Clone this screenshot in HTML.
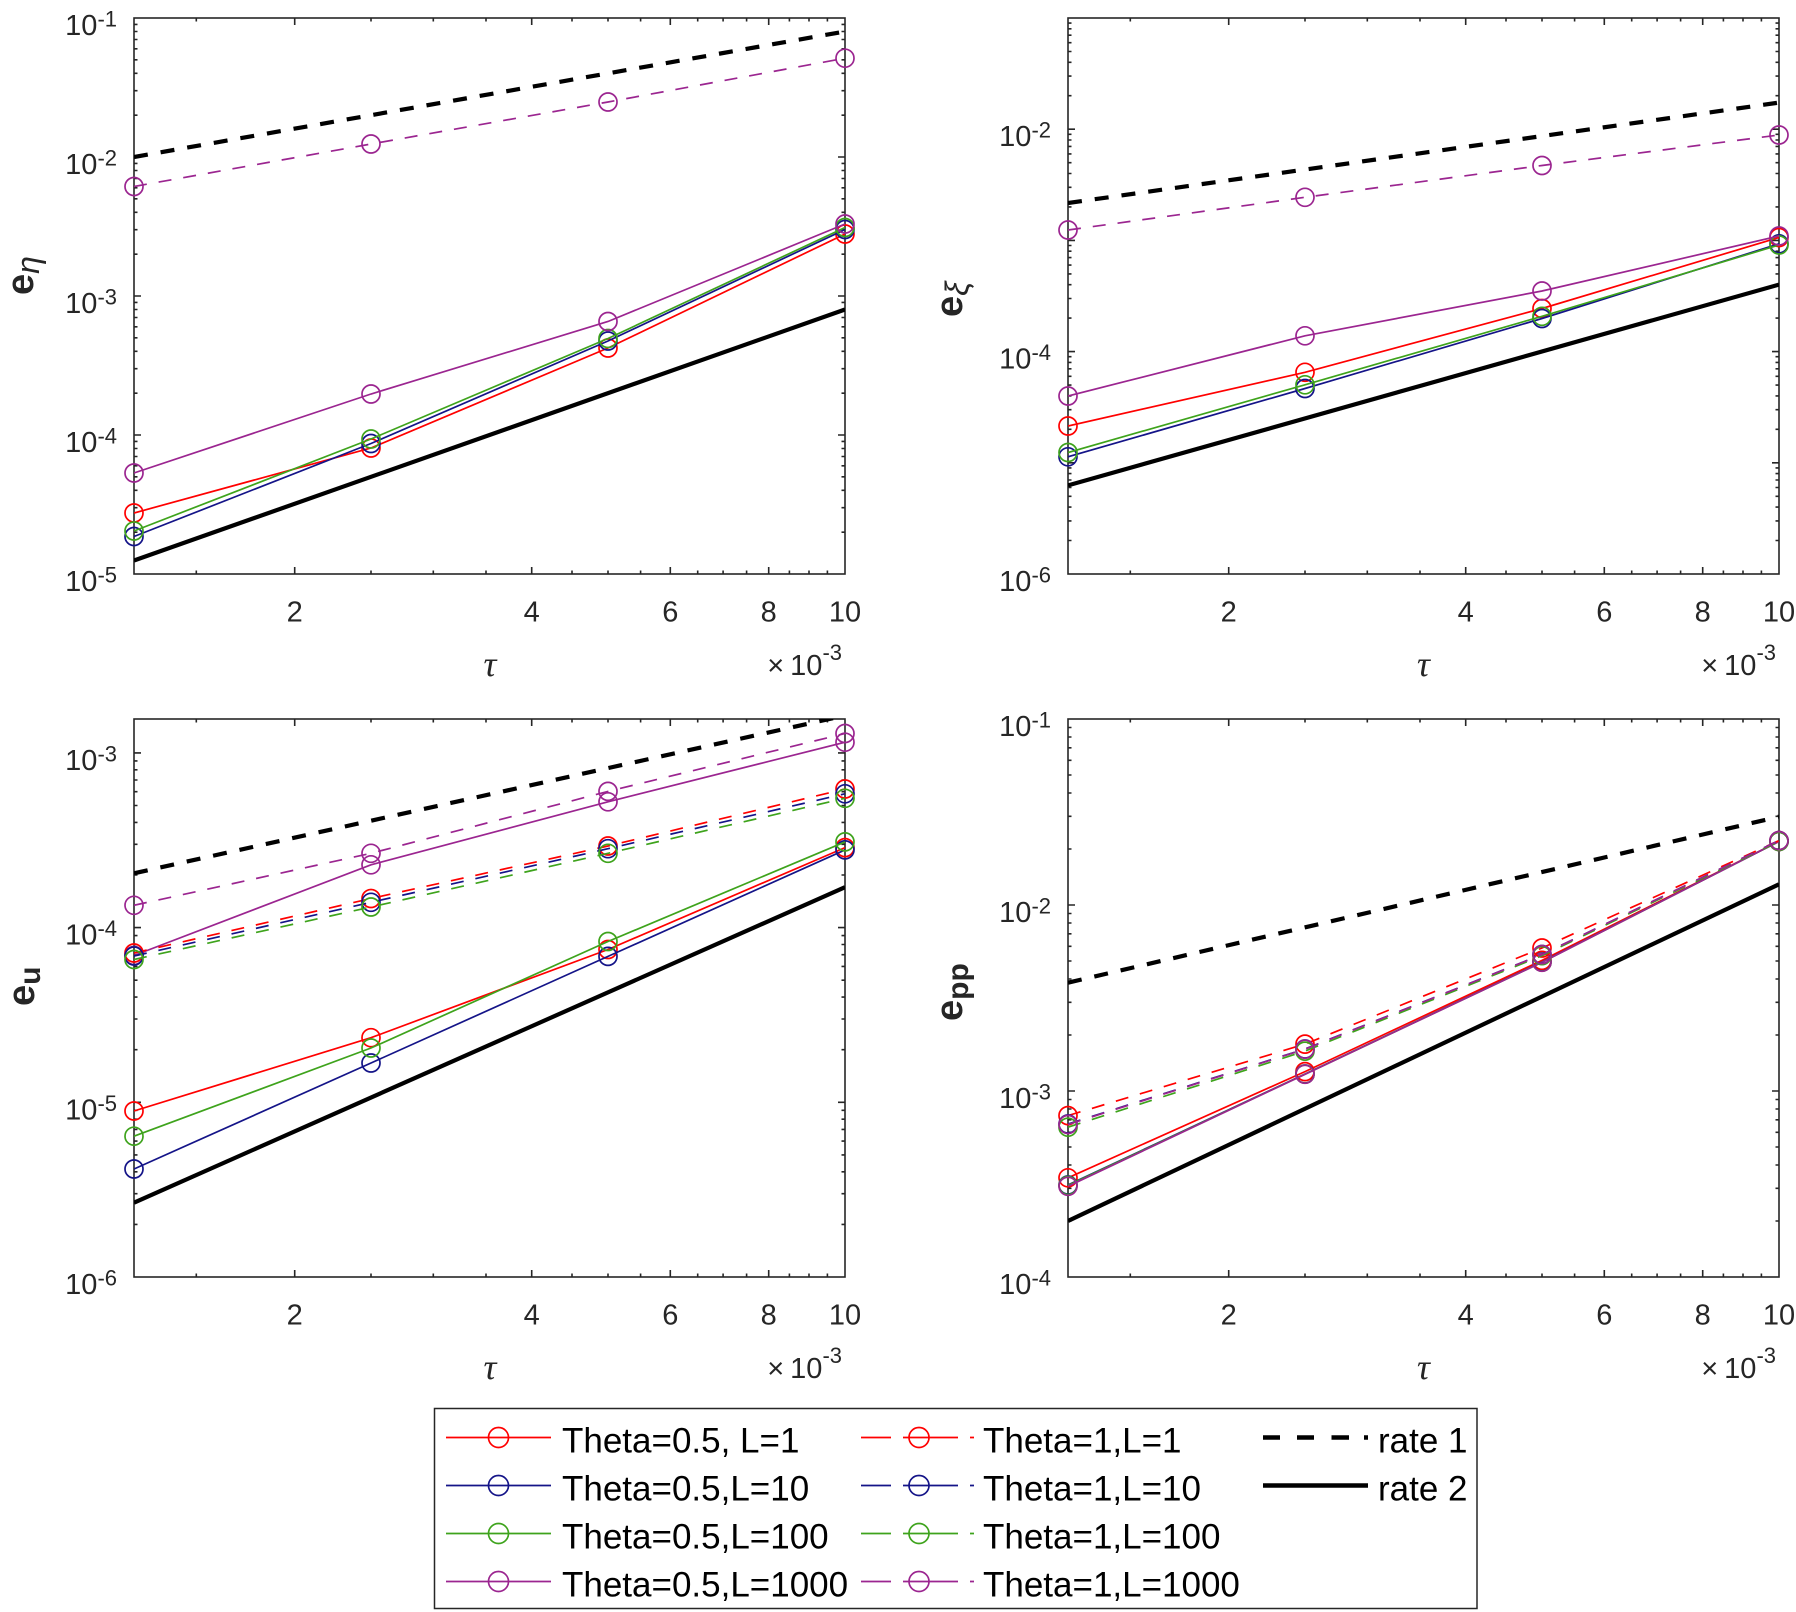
<!DOCTYPE html>
<html>
<head>
<meta charset="utf-8">
<style>
html,body{margin:0;padding:0;background:#fff;}
svg{display:block;}
</style>
</head>
<body>
<svg xmlns="http://www.w3.org/2000/svg" width="1796" height="1612" viewBox="0 0 1796 1612" font-family="'Liberation Sans', Arial, sans-serif">
<rect width="1796" height="1612" fill="#fff"/>
<defs>
<clipPath id="cTL"><rect x="134" y="18" width="711" height="556"/></clipPath>
<clipPath id="cTR"><rect x="1068" y="18" width="711" height="556"/></clipPath>
<clipPath id="cBL"><rect x="134" y="719" width="711" height="558"/></clipPath>
<clipPath id="cBR"><rect x="1068" y="719" width="711" height="558"/></clipPath>
<path id="xt" d="M160.7 0v-7M397.7 0v-7M536.3 0v-7M634.7 0v-7M62.3 0v-3.5M237 0v-3.5M299.3 0v-3.5M352 0v-3.5M438 0v-3.5M474 0v-3.5M506.6 0v-3.5M563.7 0v-3.5M589.1 0v-3.5M612.6 0v-3.5M655.4 0v-3.5M675 0v-3.5M693.4 0v-3.5"/>
<path id="yTL" d="M0 157h7M0 296h7M0 435h7M0 532.2h3.5M0 507.7h3.5M0 490.3h3.5M0 476.8h3.5M0 465.8h3.5M0 456.5h3.5M0 448.5h3.5M0 441.4h3.5M0 393.2h3.5M0 368.7h3.5M0 351.3h3.5M0 337.8h3.5M0 326.8h3.5M0 317.5h3.5M0 309.5h3.5M0 302.4h3.5M0 254.2h3.5M0 229.7h3.5M0 212.3h3.5M0 198.8h3.5M0 187.8h3.5M0 178.5h3.5M0 170.5h3.5M0 163.4h3.5M0 115.2h3.5M0 90.7h3.5M0 73.3h3.5M0 59.8h3.5M0 48.8h3.5M0 39.5h3.5M0 31.5h3.5M0 24.4h3.5"/>
<path id="yTR" d="M0 129.2h7M0 240.4h7M0 351.6h7M0 462.8h7M0 540.5h3.5M0 520.9h3.5M0 507.1h3.5M0 496.3h3.5M0 487.5h3.5M0 480h3.5M0 473.6h3.5M0 467.9h3.5M0 429.3h3.5M0 409.7h3.5M0 395.9h3.5M0 385.1h3.5M0 376.3h3.5M0 368.8h3.5M0 362.4h3.5M0 356.7h3.5M0 318.1h3.5M0 298.5h3.5M0 284.7h3.5M0 273.9h3.5M0 265.1h3.5M0 257.6h3.5M0 251.2h3.5M0 245.5h3.5M0 206.9h3.5M0 187.3h3.5M0 173.5h3.5M0 162.7h3.5M0 153.9h3.5M0 146.4h3.5M0 140h3.5M0 134.3h3.5M0 95.7h3.5M0 76.1h3.5M0 62.3h3.5M0 51.5h3.5M0 42.7h3.5M0 35.2h3.5M0 28.8h3.5M0 23.1h3.5"/>
<path id="yBL" d="M0 752.9h7M0 927.6h7M0 1102.3h7M0 1224.4h3.5M0 1193.7h3.5M0 1171.8h3.5M0 1154.9h3.5M0 1141.1h3.5M0 1129.4h3.5M0 1119.2h3.5M0 1110.3h3.5M0 1049.7h3.5M0 1019h3.5M0 997.1h3.5M0 980.2h3.5M0 966.4h3.5M0 954.7h3.5M0 944.5h3.5M0 935.6h3.5M0 875h3.5M0 844.3h3.5M0 822.4h3.5M0 805.5h3.5M0 791.7h3.5M0 780h3.5M0 769.8h3.5M0 760.9h3.5"/>
<path id="yBR" d="M0 905h7M0 1091h7M0 1221h3.5M0 1188.3h3.5M0 1165h3.5M0 1147h3.5M0 1132.3h3.5M0 1119.8h3.5M0 1109h3.5M0 1099.5h3.5M0 1035h3.5M0 1002.3h3.5M0 979h3.5M0 961h3.5M0 946.3h3.5M0 933.8h3.5M0 923h3.5M0 913.5h3.5M0 849h3.5M0 816.3h3.5M0 793h3.5M0 775h3.5M0 760.3h3.5M0 747.8h3.5M0 737h3.5M0 727.5h3.5"/>
</defs>

<!-- ===== Axes frames & ticks ===== -->
<g fill="none" stroke="#262626" stroke-width="1.6">
<rect x="134" y="18" width="711" height="556"/>
<rect x="1068" y="18" width="711" height="556"/>
<rect x="134" y="719" width="711" height="558"/>
<rect x="1068" y="719" width="711" height="558"/>
<use href="#xt" transform="translate(134,574)"/>
<use href="#xt" transform="translate(134,18) scale(1,-1)"/>
<use href="#xt" transform="translate(1068,574)"/>
<use href="#xt" transform="translate(1068,18) scale(1,-1)"/>
<use href="#xt" transform="translate(134,1277)"/>
<use href="#xt" transform="translate(134,719) scale(1,-1)"/>
<use href="#xt" transform="translate(1068,1277)"/>
<use href="#xt" transform="translate(1068,719) scale(1,-1)"/>
<use href="#yTL" transform="translate(134,0)"/>
<use href="#yTL" transform="translate(845,0) scale(-1,1)"/>
<use href="#yTR" transform="translate(1068,0)"/>
<use href="#yTR" transform="translate(1779,0) scale(-1,1)"/>
<use href="#yBL" transform="translate(134,0)"/>
<use href="#yBL" transform="translate(845,0) scale(-1,1)"/>
<use href="#yBR" transform="translate(1068,0)"/>
<use href="#yBR" transform="translate(1779,0) scale(-1,1)"/>
</g>

<!-- ===== Tick labels ===== -->
<g fill="#262626" font-size="29">
<!-- TL y -->
<g text-anchor="end">
<text x="117" y="35">10<tspan dy="-8.5" font-size="22">-1</tspan></text>
<text x="117" y="174">10<tspan dy="-8.5" font-size="22">-2</tspan></text>
<text x="117" y="313">10<tspan dy="-8.5" font-size="22">-3</tspan></text>
<text x="117" y="452">10<tspan dy="-8.5" font-size="22">-4</tspan></text>
<text x="117" y="591">10<tspan dy="-8.5" font-size="22">-5</tspan></text>
<!-- TR y -->
<text x="1051" y="146.2">10<tspan dy="-8.5" font-size="22">-2</tspan></text>
<text x="1051" y="368.6">10<tspan dy="-8.5" font-size="22">-4</tspan></text>
<text x="1051" y="591">10<tspan dy="-8.5" font-size="22">-6</tspan></text>
<!-- BL y -->
<text x="117" y="769.9">10<tspan dy="-8.5" font-size="22">-3</tspan></text>
<text x="117" y="944.6">10<tspan dy="-8.5" font-size="22">-4</tspan></text>
<text x="117" y="1119.3">10<tspan dy="-8.5" font-size="22">-5</tspan></text>
<text x="117" y="1294">10<tspan dy="-8.5" font-size="22">-6</tspan></text>
<!-- BR y -->
<text x="1051" y="736">10<tspan dy="-8.5" font-size="22">-1</tspan></text>
<text x="1051" y="922">10<tspan dy="-8.5" font-size="22">-2</tspan></text>
<text x="1051" y="1108">10<tspan dy="-8.5" font-size="22">-3</tspan></text>
<text x="1051" y="1294">10<tspan dy="-8.5" font-size="22">-4</tspan></text>
</g>
<!-- x tick labels -->
<g text-anchor="middle">
<text x="294.7" y="621.5">2</text><text x="531.7" y="621.5">4</text><text x="670.3" y="621.5">6</text><text x="768.7" y="621.5">8</text><text x="845" y="621.5">10</text>
<text x="1228.7" y="621.5">2</text><text x="1465.7" y="621.5">4</text><text x="1604.3" y="621.5">6</text><text x="1702.7" y="621.5">8</text><text x="1779" y="621.5">10</text>
<text x="294.7" y="1324.5">2</text><text x="531.7" y="1324.5">4</text><text x="670.3" y="1324.5">6</text><text x="768.7" y="1324.5">8</text><text x="845" y="1324.5">10</text>
<text x="1228.7" y="1324.5">2</text><text x="1465.7" y="1324.5">4</text><text x="1604.3" y="1324.5">6</text><text x="1702.7" y="1324.5">8</text><text x="1779" y="1324.5">10</text>
</g>
<!-- exponent labels -->
<g text-anchor="end">
<text x="842" y="675">×<tspan dx="6">10</tspan><tspan dy="-15" font-size="22">-3</tspan></text>
<text x="1776" y="675">×<tspan dx="6">10</tspan><tspan dy="-15" font-size="22">-3</tspan></text>
<text x="842" y="1378">×<tspan dx="6">10</tspan><tspan dy="-15" font-size="22">-3</tspan></text>
<text x="1776" y="1378">×<tspan dx="6">10</tspan><tspan dy="-15" font-size="22">-3</tspan></text>
</g>
<!-- tau labels -->
<g font-family="'Liberation Serif', serif" font-style="italic" font-size="36" text-anchor="middle">
<text x="490" y="676">τ</text>
<text x="1423.5" y="676">τ</text>
<text x="490" y="1379">τ</text>
<text x="1423.5" y="1379">τ</text>
</g>
<!-- y labels -->
<text transform="translate(33,295) rotate(-90)" font-weight="bold" font-size="38">e<tspan font-weight="normal" font-style="italic" font-size="32" dy="6">η</tspan></text>
<text transform="translate(962,317) rotate(-90)" font-weight="bold" font-size="38">e<tspan font-weight="normal" font-style="italic" font-size="32" dy="6">ξ</tspan></text>
<text transform="translate(34,1006) rotate(-90)" font-weight="bold" font-size="38">e<tspan font-size="30" dy="6">u</tspan></text>
<text transform="translate(962,1021) rotate(-90)" font-weight="bold" font-size="38">e<tspan font-size="30" dy="6">pp</tspan></text>
</g>

<!-- ===== TL data ===== -->
<g fill="none" stroke-width="1.7">
<polyline clip-path="url(#cTL)" stroke="#ff0000" points="134,513 371,448 608,348 845,234"/>
<g stroke="#ff0000"><circle cx="134" cy="513" r="9"/><circle cx="371" cy="448" r="9"/><circle cx="608" cy="348" r="9"/><circle cx="845" cy="234" r="9"/></g>
<polyline clip-path="url(#cTL)" stroke="#141488" points="134,536.5 371,443.5 608,341 845,229.5"/>
<g stroke="#141488"><circle cx="134" cy="536.5" r="9"/><circle cx="371" cy="443.5" r="9"/><circle cx="608" cy="341" r="9"/><circle cx="845" cy="229.5" r="9"/></g>
<polyline clip-path="url(#cTL)" stroke="#3ea31c" points="134,531 371,439 608,338.5 845,227.5"/>
<g stroke="#3ea31c"><circle cx="134" cy="531" r="9"/><circle cx="371" cy="439" r="9"/><circle cx="608" cy="338.5" r="9"/><circle cx="845" cy="227.5" r="9"/></g>
<polyline clip-path="url(#cTL)" stroke="#9b2590" points="134,473 371,394 608,321.5 845,224"/>
<g stroke="#9b2590"><circle cx="134" cy="473" r="9"/><circle cx="371" cy="394" r="9"/><circle cx="608" cy="321.5" r="9"/><circle cx="845" cy="224" r="9"/></g>
<polyline clip-path="url(#cTL)" stroke="#9b2590" stroke-dasharray="13 12" points="134,186.5 371,144 608,102 845,58.2"/>
<g stroke="#9b2590"><circle cx="134" cy="186.5" r="9"/><circle cx="371" cy="144" r="9"/><circle cx="608" cy="102" r="9"/><circle cx="845" cy="58.2" r="9"/></g>
<line clip-path="url(#cTL)" stroke="#000" stroke-width="4.2" stroke-dasharray="14 13" x1="134" y1="157" x2="845" y2="31.5"/>
<line clip-path="url(#cTL)" stroke="#000" stroke-width="4.2" x1="134" y1="560.5" x2="845" y2="309.5"/>
</g>

<!-- ===== TR data ===== -->
<g fill="none" stroke-width="1.7">
<polyline clip-path="url(#cTR)" stroke="#ff0000" points="1068,426 1305,372.3 1542,308.5 1779,237.5"/>
<g stroke="#ff0000"><circle cx="1068" cy="426" r="9"/><circle cx="1305" cy="372.3" r="9"/><circle cx="1542" cy="308.5" r="9"/><circle cx="1779" cy="237.5" r="9"/></g>
<polyline clip-path="url(#cTR)" stroke="#141488" points="1068,456.8 1305,388.5 1542,318.5 1779,243.8"/>
<g stroke="#141488"><circle cx="1068" cy="456.8" r="9"/><circle cx="1305" cy="388.5" r="9"/><circle cx="1542" cy="318.5" r="9"/><circle cx="1779" cy="243.8" r="9"/></g>
<polyline clip-path="url(#cTR)" stroke="#3ea31c" points="1068,452.5 1305,384.8 1542,316.3 1779,245"/>
<g stroke="#3ea31c"><circle cx="1068" cy="452.5" r="9"/><circle cx="1305" cy="384.8" r="9"/><circle cx="1542" cy="316.3" r="9"/><circle cx="1779" cy="245" r="9"/></g>
<polyline clip-path="url(#cTR)" stroke="#9b2590" points="1068,396 1305,335.8 1542,291 1779,236"/>
<g stroke="#9b2590"><circle cx="1068" cy="396" r="9"/><circle cx="1305" cy="335.8" r="9"/><circle cx="1542" cy="291" r="9"/><circle cx="1779" cy="236" r="9"/></g>
<polyline clip-path="url(#cTR)" stroke="#9b2590" stroke-dasharray="13 12" points="1068,230 1305,197.3 1542,165.5 1779,135"/>
<g stroke="#9b2590"><circle cx="1068" cy="230" r="9"/><circle cx="1305" cy="197.3" r="9"/><circle cx="1542" cy="165.5" r="9"/><circle cx="1779" cy="135" r="9"/></g>
<line clip-path="url(#cTR)" stroke="#000" stroke-width="4.2" stroke-dasharray="14 13" x1="1068" y1="203" x2="1779" y2="102.6"/>
<line clip-path="url(#cTR)" stroke="#000" stroke-width="4.2" x1="1068" y1="485.4" x2="1779" y2="284.6"/>
</g>

<!-- ===== BL data ===== -->
<g fill="none" stroke-width="1.7">
<polyline clip-path="url(#cBL)" stroke="#ff0000" points="134,1111 371,1037.7 608,949.5 845,847.6"/>
<g stroke="#ff0000"><circle cx="134" cy="1111" r="9"/><circle cx="371" cy="1037.7" r="9"/><circle cx="608" cy="949.5" r="9"/><circle cx="845" cy="847.6" r="9"/></g>
<polyline clip-path="url(#cBL)" stroke="#141488" points="134,1169 371,1063 608,956.4 845,849.9"/>
<g stroke="#141488"><circle cx="134" cy="1169" r="9"/><circle cx="371" cy="1063" r="9"/><circle cx="608" cy="956.4" r="9"/><circle cx="845" cy="849.9" r="9"/></g>
<polyline clip-path="url(#cBL)" stroke="#3ea31c" points="134,1136.2 371,1048 608,941.5 845,841.9"/>
<g stroke="#3ea31c"><circle cx="134" cy="1136.2" r="9"/><circle cx="371" cy="1048" r="9"/><circle cx="608" cy="941.5" r="9"/><circle cx="845" cy="841.9" r="9"/></g>
<polyline clip-path="url(#cBL)" stroke="#9b2590" points="134,955.5 371,864.8 608,801.8 845,742.2"/>
<g stroke="#9b2590"><circle cx="134" cy="955.5" r="9"/><circle cx="371" cy="864.8" r="9"/><circle cx="608" cy="801.8" r="9"/><circle cx="845" cy="742.2" r="9"/></g>
<polyline clip-path="url(#cBL)" stroke="#ff0000" stroke-dasharray="13 12" points="134,953 371,898.5 608,846 845,789"/>
<g stroke="#ff0000"><circle cx="134" cy="953" r="9"/><circle cx="371" cy="898.5" r="9"/><circle cx="608" cy="846" r="9"/><circle cx="845" cy="789" r="9"/></g>
<polyline clip-path="url(#cBL)" stroke="#141488" stroke-dasharray="13 12" points="134,956 371,902.3 608,848.7 845,793.8"/>
<g stroke="#141488"><circle cx="134" cy="956" r="9"/><circle cx="371" cy="902.3" r="9"/><circle cx="608" cy="848.7" r="9"/><circle cx="845" cy="793.8" r="9"/></g>
<polyline clip-path="url(#cBL)" stroke="#3ea31c" stroke-dasharray="13 12" points="134,959.5 371,907 608,853.3 845,798.3"/>
<g stroke="#3ea31c"><circle cx="134" cy="959.5" r="9"/><circle cx="371" cy="907" r="9"/><circle cx="608" cy="853.3" r="9"/><circle cx="845" cy="798.3" r="9"/></g>
<polyline clip-path="url(#cBL)" stroke="#9b2590" stroke-dasharray="13 12" points="134,905.3 371,853.3 608,791.4 845,733.5"/>
<g stroke="#9b2590"><circle cx="134" cy="905.3" r="9"/><circle cx="371" cy="853.3" r="9"/><circle cx="608" cy="791.4" r="9"/><circle cx="845" cy="733.5" r="9"/></g>
<line clip-path="url(#cBL)" stroke="#000" stroke-width="4.2" stroke-dasharray="14 13" x1="134" y1="873.3" x2="845" y2="715.5"/>
<line clip-path="url(#cBL)" stroke="#000" stroke-width="4.2" x1="134" y1="1202.7" x2="845" y2="887.2"/>
</g>

<!-- ===== BR data ===== -->
<g fill="none" stroke-width="1.7">
<polyline clip-path="url(#cBR)" stroke="#ff0000" points="1068,1177.8 1305,1071.6 1542,960.4 1779,841.4"/>
<g stroke="#ff0000"><circle cx="1068" cy="1177.8" r="9"/><circle cx="1305" cy="1071.6" r="9"/><circle cx="1542" cy="960.4" r="9"/><circle cx="1779" cy="841.4" r="9"/></g>
<polyline clip-path="url(#cBR)" stroke="#141488" points="1068,1185 1305,1074 1542,962 1779,841.4"/>
<g stroke="#141488"><circle cx="1068" cy="1185" r="9"/><circle cx="1305" cy="1074" r="9"/><circle cx="1542" cy="962" r="9"/><circle cx="1779" cy="841.4" r="9"/></g>
<polyline clip-path="url(#cBR)" stroke="#3ea31c" points="1068,1185.5 1305,1074.2 1542,962.2 1779,841.4"/>
<g stroke="#3ea31c"><circle cx="1068" cy="1185.5" r="9"/><circle cx="1305" cy="1074.2" r="9"/><circle cx="1542" cy="962.2" r="9"/><circle cx="1779" cy="841.4" r="9"/></g>
<polyline clip-path="url(#cBR)" stroke="#9b2590" points="1068,1186.3 1305,1074.3 1542,962.3 1779,841.4"/>
<g stroke="#9b2590"><circle cx="1068" cy="1186.3" r="9"/><circle cx="1305" cy="1074.3" r="9"/><circle cx="1542" cy="962.3" r="9"/><circle cx="1779" cy="841.4" r="9"/></g>
<polyline clip-path="url(#cBR)" stroke="#ff0000" stroke-dasharray="13 12" points="1068,1115.6 1305,1044.1 1542,948 1779,840.6"/>
<g stroke="#ff0000"><circle cx="1068" cy="1115.6" r="9"/><circle cx="1305" cy="1044.1" r="9"/><circle cx="1542" cy="948" r="9"/><circle cx="1779" cy="840.6" r="9"/></g>
<polyline clip-path="url(#cBR)" stroke="#141488" stroke-dasharray="13 12" points="1068,1124 1305,1049 1542,954.5 1779,840.6"/>
<g stroke="#141488"><circle cx="1068" cy="1124" r="9"/><circle cx="1305" cy="1049" r="9"/><circle cx="1542" cy="954.5" r="9"/><circle cx="1779" cy="840.6" r="9"/></g>
<polyline clip-path="url(#cBR)" stroke="#3ea31c" stroke-dasharray="13 12" points="1068,1127.2 1305,1051.1 1542,955.7 1779,841.4"/>
<g stroke="#3ea31c"><circle cx="1068" cy="1127.2" r="9"/><circle cx="1305" cy="1051.1" r="9"/><circle cx="1542" cy="955.7" r="9"/><circle cx="1779" cy="841.4" r="9"/></g>
<polyline clip-path="url(#cBR)" stroke="#9b2590" stroke-dasharray="13 12" points="1068,1124.5 1305,1049.2 1542,954.6 1779,840.6"/>
<g stroke="#9b2590"><circle cx="1068" cy="1124.5" r="9"/><circle cx="1305" cy="1049.2" r="9"/><circle cx="1542" cy="954.6" r="9"/><circle cx="1779" cy="840.6" r="9"/></g>
<line clip-path="url(#cBR)" stroke="#000" stroke-width="4.2" stroke-dasharray="14 13" x1="1068" y1="982.7" x2="1779" y2="816.7"/>
<line clip-path="url(#cBR)" stroke="#000" stroke-width="4.2" x1="1068" y1="1221" x2="1779" y2="884.3"/>
</g>

<!-- ===== Legend ===== -->
<rect x="434.5" y="1408.5" width="1042.5" height="200" fill="#fff" stroke="#262626" stroke-width="1.5"/>
<g fill="none" stroke-width="1.7">
<g stroke="#ff0000"><line x1="446" y1="1437.5" x2="551" y2="1437.5"/><circle cx="498.5" cy="1437.5" r="10"/></g>
<g stroke="#141488"><line x1="446" y1="1485.5" x2="551" y2="1485.5"/><circle cx="498.5" cy="1485.5" r="10"/></g>
<g stroke="#3ea31c"><line x1="446" y1="1533.5" x2="551" y2="1533.5"/><circle cx="498.5" cy="1533.5" r="10"/></g>
<g stroke="#9b2590"><line x1="446" y1="1581.5" x2="551" y2="1581.5"/><circle cx="498.5" cy="1581.5" r="10"/></g>

<g stroke="#ff0000"><path d="M861 1437.5H891M903 1437.5H958M970 1437.5H974"/><circle cx="919" cy="1437.5" r="10"/></g>
<g stroke="#141488"><path d="M861 1485.5H891M903 1485.5H958M970 1485.5H974"/><circle cx="919" cy="1485.5" r="10"/></g>
<g stroke="#3ea31c"><path d="M861 1533.5H891M903 1533.5H958M970 1533.5H974"/><circle cx="919" cy="1533.5" r="10"/></g>
<g stroke="#9b2590"><path d="M861 1581.5H891M903 1581.5H958M970 1581.5H974"/><circle cx="919" cy="1581.5" r="10"/></g>

<path stroke="#000" stroke-width="4.5" d="M1263 1437.5H1280M1297 1437.5H1314M1331.5 1437.5H1349M1364 1437.5H1368"/>
<path stroke="#000" stroke-width="4.5" d="M1263 1485.5H1368"/>
</g>
<g fill="#000" font-size="35">
<text x="562" y="1452.5">Theta=0.5, L=1</text>
<text x="562" y="1500.5">Theta=0.5,L=10</text>
<text x="562" y="1548.5">Theta=0.5,L=100</text>
<text x="562" y="1596.5">Theta=0.5,L=1000</text>
<text x="983" y="1452.5">Theta=1,L=1</text>
<text x="983" y="1500.5">Theta=1,L=10</text>
<text x="983" y="1548.5">Theta=1,L=100</text>
<text x="983" y="1596.5">Theta=1,L=1000</text>
<text x="1378" y="1452.5">rate 1</text>
<text x="1378" y="1500.5">rate 2</text>
</g>
</svg>
</body>
</html>
